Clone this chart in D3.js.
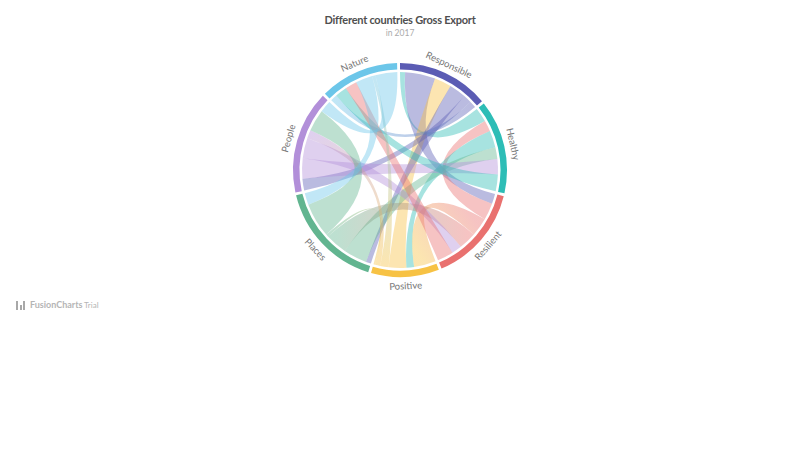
<!DOCTYPE html>
<html>
<head>
<meta charset="utf-8">
<script src="https://d3js.org/d3.v7.min.js"></script>
<style>
    html, body { margin: 0; padding: 0; background: #fff; }
    svg { display: block; font-family: Lato, "Open Sans", sans-serif; }
</style>
</head>
<body>
<div id="chart"></div>
<script>
const groups = ["Responsible", "Healthy", "Resilient", "Positive", "Places", "People", "Nature"];
const groupColors = ["#5b5cb4", "#2dbdb6", "#e9716f", "#f7c244", "#62b590", "#b28fd9", "#6cc6e9"];

// clockwise order of the ribbons inside each group, with the width of each
const targets = [
    ["Healthy", "Resilient", "Positive", "Places", "People", "Nature"],
    ["Responsible", "Resilient", "Positive", "Places", "People", "Nature"],
    ["Responsible", "Healthy", "Positive", "Places", "People", "Nature"],
    ["Resilient", "Healthy", "Responsible", "Nature", "People", "Places"],
    ["Responsible", "Healthy", "Resilient", "Positive", "People", "Nature"],
    ["Responsible", "Healthy", "Resilient", "Positive", "Places", "Nature"],
    ["Responsible", "Healthy", "Resilient", "Places", "Positive", "People"]
];
const values = [
    [3, 18, 10, 10, 5, 4],
    [8.5, 6.5, 10, 7, 9, 10],
    [6, 10, 11, 10.5, 6, 9.5],
    [13, 4.5, 10.5, 5, 3, 1],
    [3, 14, 13, 1.5, 20.5, 7],
    [7, 12, 12, 5, 13, 7],
    [4, 7, 7, 10, 2, 13]
];

// ribbon: group A, group B, colour at A's end, colour at B's end
const links = [
    ["Responsible", "Healthy", "Healthy", "Healthy"],
    ["Responsible", "Resilient", "Responsible", "Responsible"],
    ["Responsible", "Positive", "Positive", "Positive"],
    ["Responsible", "Places", "Responsible", "Responsible"],
    ["Responsible", "People", "Responsible", "Responsible"],
    ["Responsible", "Nature", "Responsible", "Nature"],
    ["Healthy", "Resilient", "Resilient", "Resilient"],
    ["Healthy", "Positive", "Healthy", "Healthy"],
    ["Healthy", "Places", "Places", "Places"],
    ["Healthy", "People", "People", "People"],
    ["Healthy", "Nature", "Healthy", "Healthy"],
    ["Resilient", "Positive", "Resilient", "Positive"],
    ["Resilient", "Places", "Resilient", "Places"],
    ["Resilient", "People", "People", "People"],
    ["Resilient", "Nature", "Resilient", "Resilient"],
    ["Positive", "Places", "Positive", "Places"],
    ["Positive", "People", "Positive", "People"],
    ["Positive", "Nature", "Positive", "Nature"],
    ["Places", "People", "Places", "Places"],
    ["Places", "Nature", "Nature", "Nature"],
    ["People", "Nature", "Nature", "Nature"]
];

const width = 800, height = 450;
const cx = 400, cy = 170;
const outerRadius = 107, innerRadius = 100.5, ribbonRadius = 98, labelRadius = 116;
const padAngle = 1.57 * Math.PI / 180;
const ribbonOpacity = 0.42;

const svg = d3.select("#chart").append("svg").attr("width", width).attr("height", height);
const defs = svg.append("defs");

svg.append("text").attr("x", 400).attr("y", 24).attr("text-anchor", "middle")
    .attr("font-size", 11).attr("font-weight", 700).attr("fill", "#4f4f4f")
    .attr("letter-spacing", "-0.25")
    .text("Different countries Gross Export");
svg.append("text").attr("x", 400).attr("y", 36).attr("text-anchor", "middle")
    .attr("font-size", 8.5).attr("fill", "#ababab").text("in 2017");

const total = d3.sum(values, row => d3.sum(row));
const angle = d3.scaleLinear().domain([0, total]).range([0, 2 * Math.PI - padAngle * groups.length]);

// walk round the circle, laying the groups and their ribbon ends
const layout = [];
const ends = new Map();
let offset = 0;
groups.forEach((name, i) => {
    const start = angle(offset) + padAngle * i;
    values[i].forEach((v, j) => {
        const a0 = angle(offset) + padAngle * i;
        offset += v;
        const a1 = angle(offset) + padAngle * i;
        ends.set(name + ">" + targets[i][j], { startAngle: a0, endAngle: a1 });
    });
    layout.push({ name, index: i, startAngle: start, endAngle: angle(offset) + padAngle * i });
});

const root = svg.append("g").attr("transform", `translate(${cx},${cy})`);
const color = name => groupColors[groups.indexOf(name)];
const ribbon = d3.ribbon().radius(ribbonRadius);
const arc = d3.arc().innerRadius(innerRadius).outerRadius(outerRadius);

const midPoint = e => {
    const a = (e.startAngle + e.endAngle) / 2 - Math.PI / 2;
    return [ribbonRadius * Math.cos(a), ribbonRadius * Math.sin(a)];
};

root.append("g").selectAll("path")
    .data(links)
    .join("path")
    .attr("d", d => ribbon({ source: ends.get(d[0] + ">" + d[1]), target: ends.get(d[1] + ">" + d[0]) }))
    .attr("fill-opacity", ribbonOpacity)
    .attr("fill", (d, i) => {
        if (d[2] === d[3]) return color(d[2]);
        const p0 = midPoint(ends.get(d[0] + ">" + d[1]));
        const p1 = midPoint(ends.get(d[1] + ">" + d[0]));
        const grad = defs.append("linearGradient").attr("id", "link" + i)
            .attr("gradientUnits", "userSpaceOnUse")
            .attr("x1", p0[0]).attr("y1", p0[1]).attr("x2", p1[0]).attr("y2", p1[1]);
        grad.append("stop").attr("offset", "0%").attr("stop-color", color(d[2]));
        grad.append("stop").attr("offset", "100%").attr("stop-color", color(d[3]));
        return `url(#link${i})`;
    });

root.append("g").selectAll("path")
    .data(layout)
    .join("path")
    .attr("d", arc)
    .attr("fill", d => color(d.name));

root.append("g").selectAll("text")
    .data(layout)
    .join("text")
    .attr("text-anchor", "middle")
    .attr("dy", "0.35em")
    .attr("font-size", 9.5)
    .attr("fill", "#757575")
    .attr("transform", d => {
        const deg = (d.startAngle + d.endAngle) / 2 * 180 / Math.PI;
        const flip = deg > 100 && deg < 260 ? deg - 180 : deg;
        return `rotate(${deg}) translate(0,${-labelRadius}) rotate(${flip - deg})`;
    })
    .text(d => d.name);

// trial logo, bottom left
const logoBars = [[16, 301, 2, 9], [20, 305, 2, 5], [23, 301, 2, 9]];
svg.append("g").attr("fill", "#a8a8a8").selectAll("rect")
    .data(logoBars)
    .join("rect")
    .attr("x", d => d[0]).attr("y", d => d[1]).attr("width", d => d[2]).attr("height", d => d[3]);
svg.append("text").attr("x", 30).attr("y", 308).attr("font-size", 9).attr("font-weight", 700)
    .attr("fill", "#b5b5b5").text("FusionCharts");
svg.append("text").attr("x", 84).attr("y", 308).attr("font-size", 8).attr("fill", "#b5b5b5").text("Trial");
</script>
</body>
</html>
